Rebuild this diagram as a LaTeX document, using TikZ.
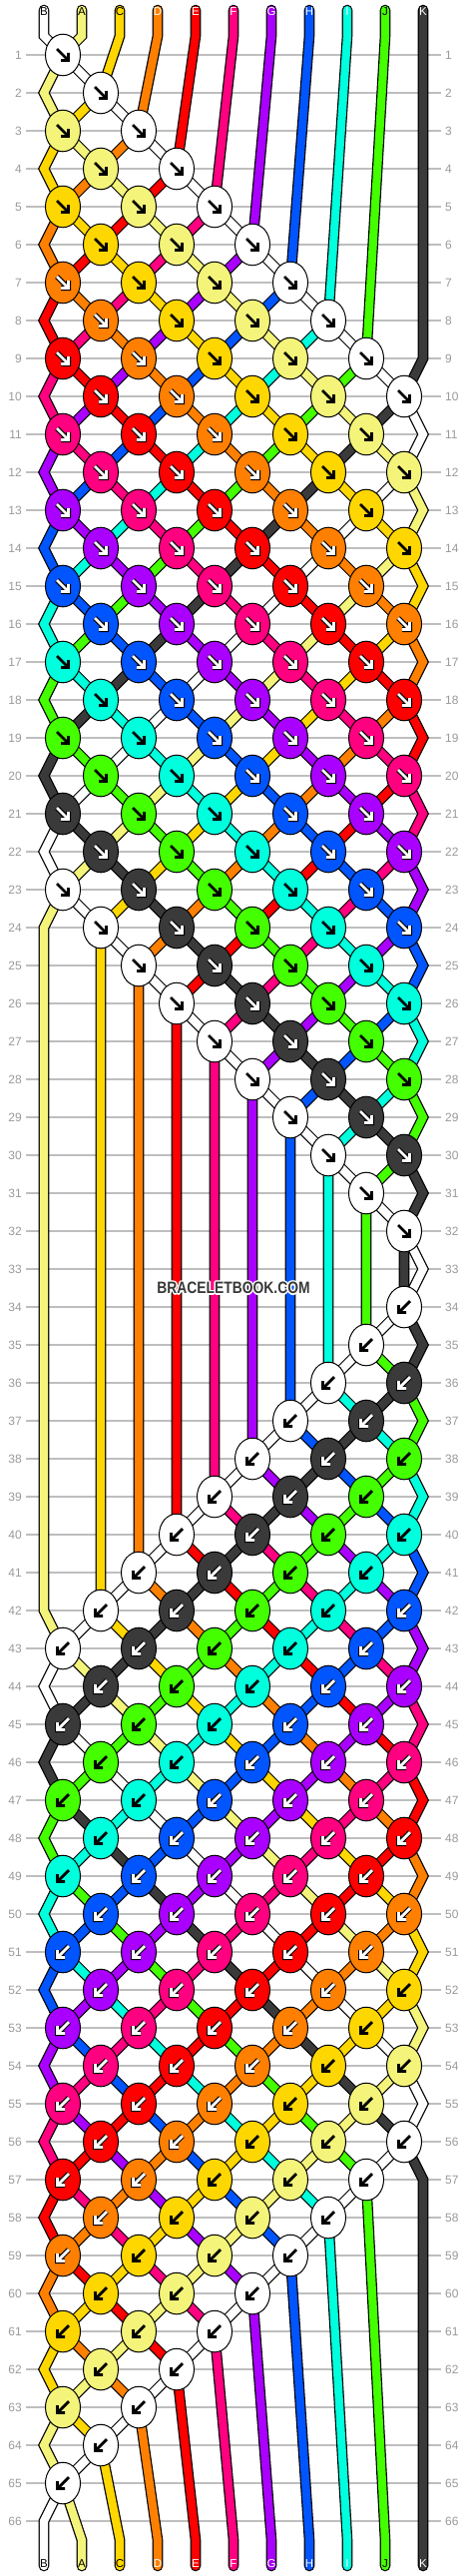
\documentclass[tikz,border=0pt]{standalone}
\usepackage{fontspec}
\setmainfont{Liberation Sans}
\definecolor{c0}{HTML}{FFFFFF}
\definecolor{c1}{HTML}{F4F47A}
\definecolor{c2}{HTML}{FFD700}
\definecolor{c3}{HTML}{FF8000}
\definecolor{c4}{HTML}{FF0000}
\definecolor{c5}{HTML}{FF0080}
\definecolor{c6}{HTML}{AA00FF}
\definecolor{c7}{HTML}{0055FF}
\definecolor{c8}{HTML}{00FFDD}
\definecolor{c9}{HTML}{44FF00}
\definecolor{c10}{HTML}{3A3A3A}
\definecolor{rowgray}{HTML}{BEBEBE}
\definecolor{numgray}{HTML}{9A9A9A}
\definecolor{wmgray}{HTML}{383838}
% strings whose knots carry a white arrow
\foreach \i/\v in {0/0,1/0,2/0,3/1,4/1,5/1,6/1,7/1,8/0,9/0,10/1}{\expandafter\xdef\csname wa\i\endcsname{\v}}
% ---------- simulation of the knotting ----------
\def\gst#1{\csname st#1\endcsname}
\def\setst#1#2{\expandafter\xdef\csname st#1\endcsname{#2}}
\def\addpt#1#2#3{\expandafter\xdef\csname path#1\endcsname{\csname path#1\endcsname -- (#2,#3)}}
\gdef\knotlist{}
\foreach \i in {0,...,10}{\setst{\i}{\i}\expandafter\gdef\csname path\i\endcsname{}}
\foreach \rr in {1,...,66}{%
  \ifnum\rr<33 \xdef\kbase{\rr}\gdef\kdir{1}%
  \else\ifnum\rr>33 \xdef\kbase{\the\numexpr66-\rr\relax}\gdef\kdir{2}%
  \else\gdef\kbase{0}\fi\fi
  \edef\yy{\the\numexpr17+38*\rr\relax}%
  \ifodd\rr\relax
    \addpt{\gst{10}}{424}{\yy}\gdef\plist{0,2,4,6,8}%
  \else
    \addpt{\gst{0}}{44}{\yy}\gdef\plist{1,3,5,7,9}%
  \fi
  \ifnum\kbase>0
    \foreach \p in \plist {%
      \def\kinc{1}%
      \ifnum\kbase<11 \ifnum\p>\numexpr\kbase-1\relax\def\kinc{0}\fi\fi
      \ifnum\kbase>22 \ifnum\p<\numexpr\kbase-23\relax\def\kinc{0}\fi\fi
      \ifnum\kinc=1
        \edef\lft{\gst{\p}}%
        \edef\rgt{\gst{\the\numexpr\p+1\relax}}%
        \edef\xx{\the\numexpr63+38*\p\relax}%
        \addpt{\lft}{\xx}{\yy}%
        \addpt{\rgt}{\xx}{\yy}%
        \ifnum\kdir=1 \edef\kc{\lft}\else\edef\kc{\rgt}\fi
        \xdef\knotlist{\unexpanded\expandafter{\knotlist}\noexpand\drawknot{\xx}{\yy}{\kc}{\kdir}}%
        \setst{\p}{\rgt}%
        \setst{\the\numexpr\p+1\relax}{\lft}%
      \fi
    }%
  \fi
}
% ---------- drawing helpers ----------
\def\kar#1#2#3#4#5{%
  \ifnum#3=1 \def\ksc{1}\else\def\ksc{-1}\fi
  \begin{scope}[shift={(#1,#2)},xscale=\ksc]
    \draw[#4,line width=#5pt] (-6,-6) -- (5.5,5.5) (5.5,-2) -- (5.5,5.5) -- (-2,5.5);
  \end{scope}}
\def\drawknot#1#2#3#4{%
  \filldraw[knotstyle,fill=c#3] (#1,#2) ellipse [x radius=17.5,y radius=20.8];
  \ifnum\csname wa#3\endcsname=1
    \kar{#1}{#2}{#4}{black}{5}%
    \kar{#1}{#2}{#4}{white}{2.8}%
  \else
    \kar{#1}{#2}{#4}{black}{2.8}%
  \fi}
\begin{document}
\begin{tikzpicture}[x=1pt,y=-1pt,
  strout/.style={line width=10.6pt,draw=black,line cap=round},
  strin/.style={line width=8.2pt,line cap=round},
  knotstyle/.style={draw=black,line width=1pt},
  rowline/.style={draw=rowgray,line width=1.3pt},
  rowlbl/.style={font=\fontsize{12}{12}\selectfont,text=numgray,inner sep=0pt},
  toplbl/.style={font=\fontsize{11.5}{11.5}\selectfont,inner sep=0pt},
  wmtext/.style={font=\fontsize{16.5}{16.5}\selectfont\bfseries,inner sep=0pt}]
\useasboundingbox (0,0) rectangle (468,2580);
\fill[white] (0,0) rectangle (468,2580);
% row lines and numbers
\foreach \rr in {1,...,66}{%
  \pgfmathtruncatemacro\yy{17+38*\rr}%
  \draw[rowline] (26,\yy) -- (442,\yy);
  \node[rowlbl,anchor=east] (nl\rr) at (22,\yy) {\rr};
  \node[rowlbl,anchor=west] (nr\rr) at (446,\yy) {\rr};
}
% strings
\foreach \si in {0,...,10}{%
  \pgfmathtruncatemacro\xs{44+38*\si}%
  \edef\temp{\noexpand\draw[strout] (\xs,10) -- (\xs,36)\csname path\si\endcsname -- (\xs,2544) -- (\xs,2570);
    \noexpand\draw[strin,draw=c\si] (\xs,10) -- (\xs,36)\csname path\si\endcsname -- (\xs,2544) -- (\xs,2570);}%
  \temp
}
% knots
\knotlist
% string letters
\foreach \si/\lt/\lc in {0/B/black,1/A/black,2/C/black,3/D/white,4/E/white,5/F/white,6/G/white,7/H/white,8/I/white,9/J/black,10/K/white}{%
  \pgfmathtruncatemacro\xs{44+38*\si}%
  \node[toplbl,text=\lc] (top\lt) at (\xs,12) {\lt};
  \node[toplbl,text=\lc] (bot\lt) at (\xs,2568) {\lt};
}
% watermark
\foreach \dx/\dy [count=\k] in {-1.6/0,1.6/0,0/-1.6,0/1.6,-1.1/-1.1,1.1/1.1,-1.1/1.1,1.1/-1.1}{%
  \node[wmtext,text=white] (wmh\k) at ({234+\dx},{1290+\dy}) {\scalebox{0.84}[1]{BRACELETBOOK.COM}};
}
\node[wmtext,text=wmgray] (wm) at (234,1290) {\scalebox{0.84}[1]{BRACELETBOOK.COM}};
\end{tikzpicture}
\end{document}
